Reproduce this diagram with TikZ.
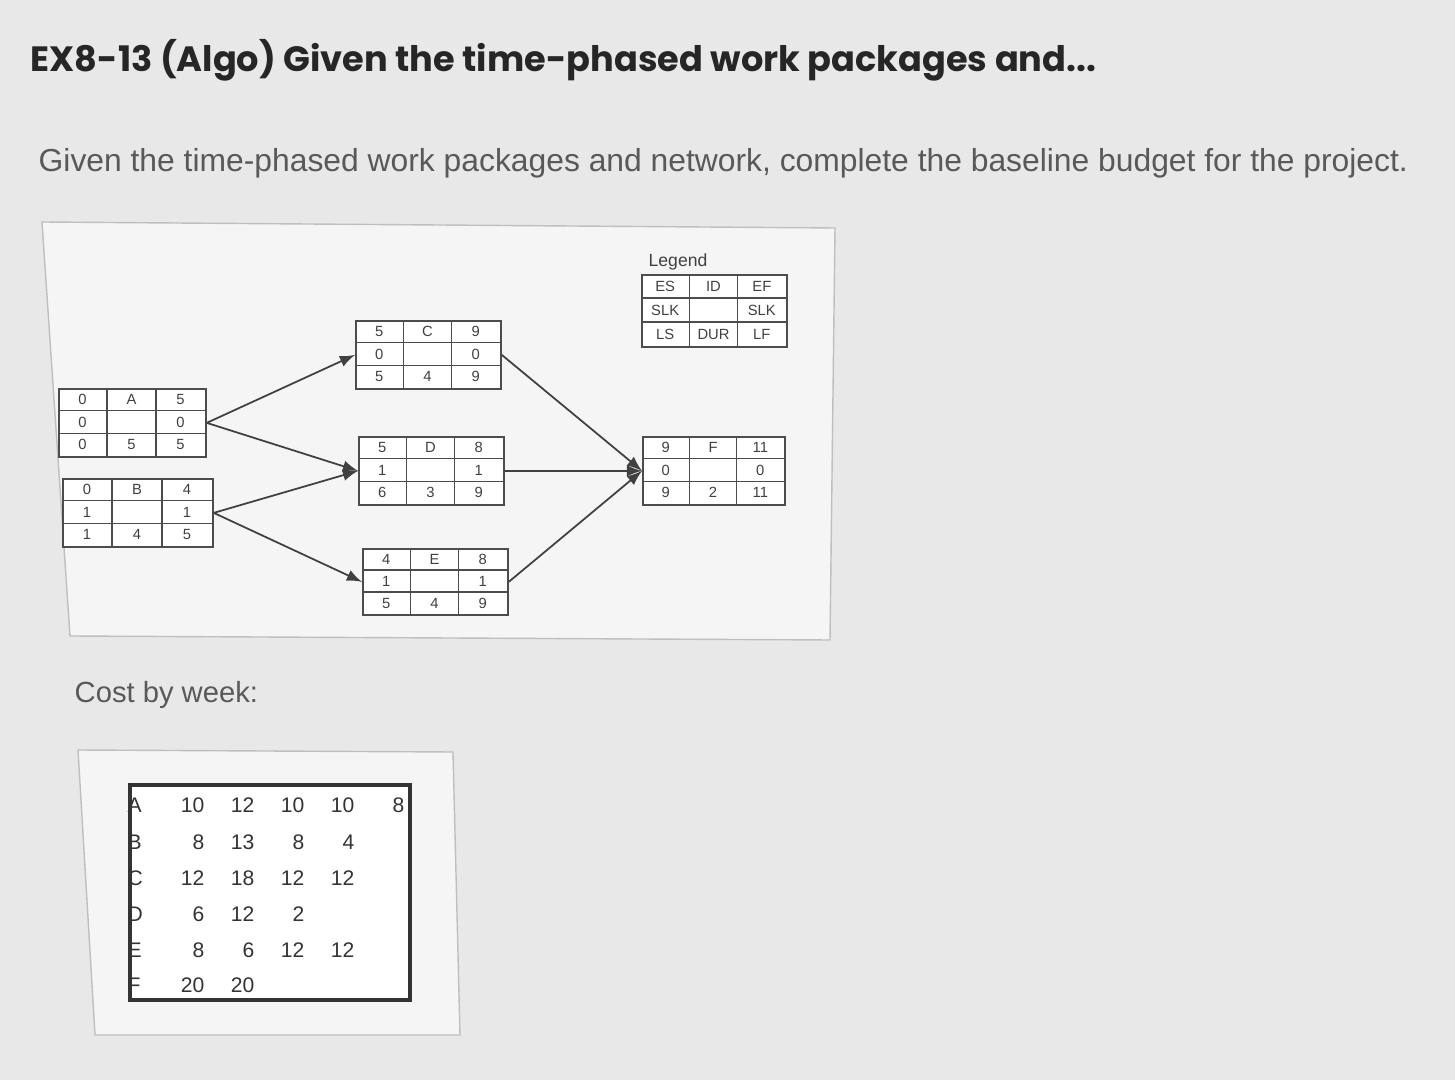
\documentclass[tikz,border=0pt]{standalone}
\usepackage{fontspec}
\setmainfont{Liberation Sans}
\newfontfamily\titlefont{Poppins}
\newcommand{\actbox}[6]{%
  \node[draw=black!70,line width=0.5pt,fill=white,minimum width=#4*0.01cm,minimum height=#5*0.01cm,anchor=north west,inner sep=0pt] (#1) at (#2,#3) {};
  \foreach \k in {1,2}{
    \draw[black!70,line width=0.4pt] ({#2+\k*#4/3},#3) -- ({#2+\k*#4/3},{#3+#5});
    \draw[black!70,line width=0.4pt] (#2,{#3+\k*#5/3}) -- ({#2+#4},{#3+\k*#5/3});}
  \foreach \t [count=\i from 0] in {#6}{
    \pgfmathsetmacro\cx{mod(\i,3)}\pgfmathsetmacro\cy{int(\i/3)}
    \node[cell] at ({#2+(\cx+0.5)*#4/3},{#3+(\cy+0.5)*#5/3}) {\t};}}
\begin{document}
\begin{tikzpicture}[x=0.01cm,y=-0.01cm,
  cell/.style={font=\fontsize{4.2}{5}\selectfont,text=black!75,inner sep=0pt},
  arr/.style={draw=black!75,line width=0.5pt,-latex},
  ct/.style={font=\fontsize{6}{7}\selectfont,text=black!80,inner sep=0pt}]
\fill[black!9] (0,0) rectangle (1455,1080);
\useasboundingbox (0,0) rectangle (1455,1080);
\node[anchor=west,font=\titlefont\fontsize{10}{12}\selectfont\bfseries,text=black!85,inner sep=0pt] (title) at (30,60) {EX8-13 (Algo) Given the time-phased work packages and...};
\node[anchor=west,font=\fontsize{9.05}{10}\selectfont,text=black!65,inner sep=0pt] (sub) at (38,163) {Given the time-phased work packages and network, complete the baseline budget for the project.};
\draw[black!25,fill=black!4] (42,222) -- (835,228) -- (830,640) -- (70,636) -- cycle;
\actbox{A}{58}{388}{147}{68}{0,A,5,0,,0,0,5,5}
\actbox{B}{62}{478}{150}{68}{0,B,4,1,,1,1,4,5}
\actbox{C}{355}{320}{145}{68}{5,C,9,0,,0,5,4,9}
\actbox{D}{358}{436}{145}{68}{5,D,8,1,,1,6,3,9}
\actbox{E}{362}{548}{145}{66}{4,E,8,1,,1,5,4,9}
\actbox{F}{642}{436}{142}{68}{9,F,11,0,,0,9,2,11}
\actbox{L}{641}{274}{145}{72}{ES,ID,EF,SLK,,SLK,LS,DUR,LF}
\node[cell,font=\fontsize{5}{6}\selectfont] (leg) at (678,262) {Legend};
\draw[arr] (A.east) -- (C.west);
\draw[arr] (A.east) -- (D.west);
\draw[arr] (B.east) -- (D.west);
\draw[arr] (B.east) -- (E.west);
\draw[arr] (C.east) -- (F.west);
\draw[arr] (D.east) -- (F.west);
\draw[arr] (E.east) -- (F.west);
\node[anchor=west,font=\fontsize{8.3}{10}\selectfont,text=black!65,inner sep=0pt] (cost) at (74,695) {Cost by week:};
\draw[black!25,fill=black!4] (78,750) -- (453,752) -- (460,1035) -- (95,1035) -- cycle;
\draw[black!80,line width=1.2pt,fill=white] (130,785) rectangle (410,1000);
\foreach \lab/\y/\vs in {A/805/{10,12,10,10,8},B/842/{8,13,8,4},C/878/{12,18,12,12},D/914/{6,12,2},E/950/{8,6,12,12},F/985/{20,20}}{
  \node[ct,anchor=west] at (127,\y) {\lab};
  \foreach \v [count=\j from 0] in \vs {
    \node[ct,anchor=east] at ({205+\j*50},\y) {\v};}}
\end{tikzpicture}
\end{document}
